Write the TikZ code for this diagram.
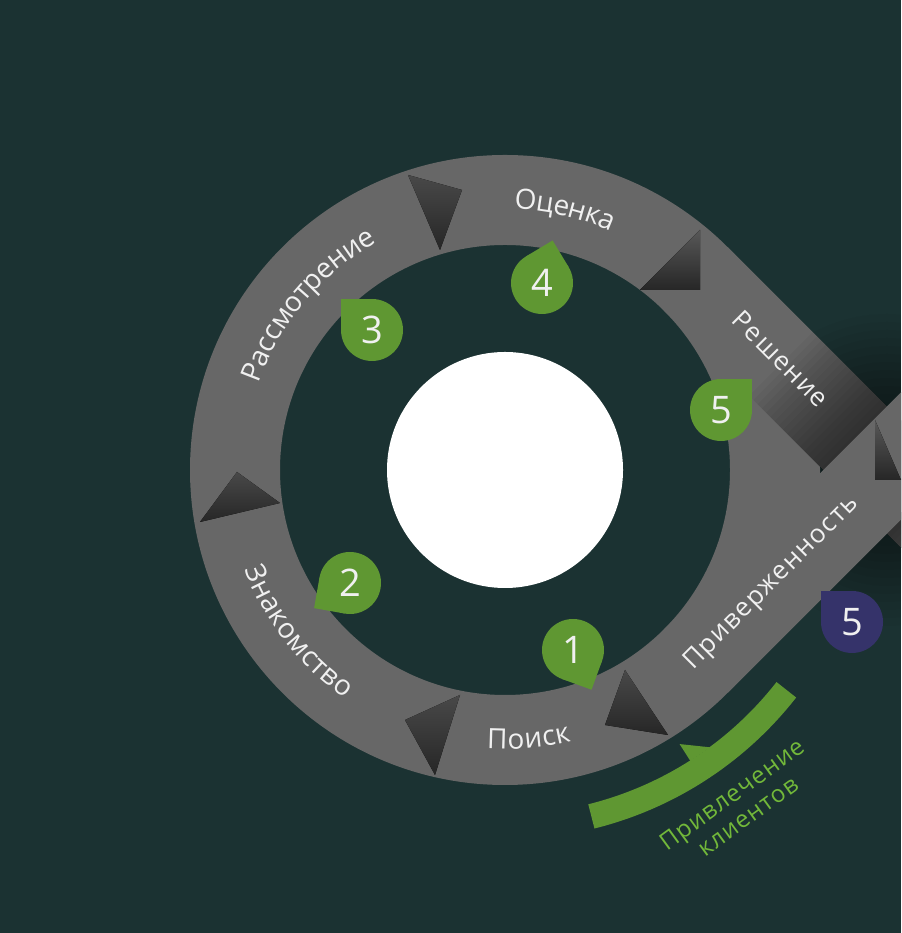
\documentclass[tikz,border=0pt]{standalone}
\usepackage{fontspec}
\setmainfont{Open Sans}
\newfontfamily\spacedfam{Open Sans}[LetterSpace=5]
\usetikzlibrary{decorations.text,calc}
\definecolor{bg}{HTML}{1B3232}
\definecolor{band}{HTML}{676767}
\definecolor{grn}{HTML}{5F9732}
\definecolor{lgrn}{HTML}{72B83A}
\definecolor{purp}{HTML}{35336A}
\definecolor{txt}{HTML}{F0F0F0}
\newcommand{\ringfont}{\fontsize{28}{28}\selectfont\color{txt}}
\tikzset{
  bandline/.style={line width=90pt, draw=band},
  ringtext/.style={decorate, decoration={text along path, text align=center, raise=-9pt, text={|\ringfont|#1}}},
  fold/.style={shading=axis, left color=#1, right color=black!85, shading angle=0},
  droptext/.style={text=txt, font=\fontsize{38}{38}\selectfont, inner sep=0pt},
  bandlabel/.style={text=txt, font=\spacedfam\fontsize{26}{26}\selectfont, inner sep=0pt},
  dim/.style={fill=black, opacity=0.035}
}
\newcommand{\mydrop}[6]{% name, x, y, rotate, colour, text
  \begin{scope}[shift={(#2,#3)}, rotate=#4]
    \fill[#5] (0,0) circle (31);
    \fill[#5] (0,0) rectangle (31,31);
  \end{scope}
  \node[droptext] (#1) at (#2,#3) {#6};
}
\begin{document}
\begin{tikzpicture}[x=1pt,y=1pt]
\useasboundingbox (0,0) rectangle (901,933);
\clip (0,0) rectangle (901,933);
\fill[bg] (0,0) rectangle (901,933);
\coordinate (C) at (505,463);
\coordinate (X) at (887,463);
% soft dark halo around the crossing
\foreach \r in {60,68,...,160}{
  \fill[black, opacity=0.03] (X) circle (\r);
}
% band 1 (Resheniye)
\coordinate (b1s) at (696,654);
\coordinate (b1e) at (1100,250);
\draw[bandline] (b1s) -- (b1e);
% ring
\draw[bandline] (C) circle (270);
% darkening of band 1 near the crossing
\begin{scope}[shift={(X)}, rotate=-45]
  \foreach \k in {0,...,18}{
    \path[dim] (-150+\k*6,-45) rectangle (-40,45);
    \path[dim] (40,-45) rectangle (130-\k*5,45);
  }
\end{scope}
% band 2 (Priverzhennost)
\coordinate (b2s) at (696,272);
\coordinate (b2e) at (1100,676);
\draw[bandline] (b2s) -- (b2e);
% fold triangles
\fill[fold=band!120] (408,758) -- (462,743) -- (440,683) -- cycle;
\fill[fold=band!110] (640,643) -- (700,703) -- (700,643) -- cycle;
\fill[fold=band!110] (875,513) -- (875,453) -- (901,453) -- cycle;
\fill[fold=band!120] (200,411) -- (237,461) -- (280,430) -- cycle;
\fill[fold=band!120] (460,238) -- (405,213) -- (435,158) -- cycle;
\fill[fold=band!120] (668,198) -- (625,263) -- (605,208) -- cycle;
% white circle
\node[circle, fill=white, minimum size=236pt, inner sep=0pt] (hub) at (C) {};
% ring labels
\path[ringtext=Поиск] ($(C)+(-99:270)$) arc[start angle=-99, end angle=-71, radius=270];
\path[ringtext=Знакомство] ($(C)+(186:270)$) arc[start angle=186, end angle=250, radius=270];
\path[ringtext=Рассмотрение] ($(C)+(176:270)$) arc[start angle=176, end angle=104, radius=270];
\path[ringtext=Оценка] ($(C)+(96:270)$) arc[start angle=96, end angle=58, radius=270];
\node[bandlabel, rotate=-45] (resh) at (781,574) {Решение};
\node[bandlabel, rotate=45] (priv) at (772,350) {Приверженность};
% drops
\mydrop{d1}{573}{283}{-110}{grn}{1}
\mydrop{d2}{350}{350}{170}{grn}{2}
\mydrop{d3}{372}{603}{90}{grn}{3}
\mydrop{d4}{542}{650}{31}{grn}{4}
\mydrop{d5}{721}{523}{0}{grn}{5}
\mydrop{d6}{852}{311}{90}{purp}{5}
% attraction bracket
\draw[line width=25pt, draw=grn] ($(C)+(-76:357)$) arc[start angle=-76, end angle=-38, radius=357];
\fill[grn] ($(C)+(-57.5:345)$) -- ($(C)+(-53.5:345)$) -- ($(C)+(-57.5:325)$) -- cycle;
\node[text=lgrn, font=\spacedfam\fontsize{24}{27}\selectfont, rotate=36, align=center, inner sep=0pt] (attr) at (740,128) {Привлечение\\клиентов};
\end{tikzpicture}
\end{document}
